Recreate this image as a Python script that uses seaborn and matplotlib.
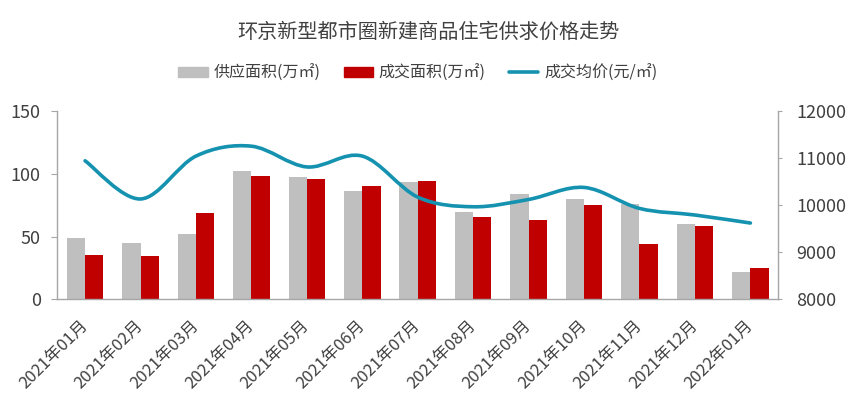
import pandas as pd
import matplotlib
matplotlib.use('Agg')
import matplotlib.pyplot as plt
import matplotlib.transforms as mtransforms
import seaborn as sns
import numpy as np
from matplotlib.path import Path
from matplotlib.patches import PathPatch
from matplotlib.lines import Line2D

# --- 数据 ---
months = ['2021年01月', '2021年02月', '2021年03月', '2021年04月', '2021年05月',
          '2021年06月', '2021年07月', '2021年08月', '2021年09月', '2021年10月',
          '2021年11月', '2021年12月', '2022年01月']
supply_area = [49, 45, 51.7, 102, 97.5, 86, 93, 69.5, 84, 80, 76, 60, 21.5]
deal_area = [35, 34.5, 68.4, 98, 95.7, 90, 94, 65.5, 63, 75.3, 43.8, 58.6, 25]
deal_price = [10940, 10130, 11040, 11250, 10810, 11040, 10170, 9965, 10120,
              10375, 9930, 9790, 9620]

SUPPLY_LABEL = '供应面积(万㎡)'
DEAL_LABEL = '成交面积(万㎡)'
PRICE_LABEL = '成交均价(元/㎡)'

GRAY = '#BFBFBF'
RED = '#C00000'
BLUE = '#1492B0'
TEXT = '#404040'
AXIS = '#A6A6A6'

sns.set_style('white')
plt.rcParams['font.family'] = ['Noto Sans CJK SC', 'DejaVu Sans']
plt.rcParams['axes.unicode_minus'] = False

df = pd.DataFrame({
    'month': months * 2,
    'value': supply_area + deal_area,
    'series': [SUPPLY_LABEL] * len(months) + [DEAL_LABEL] * len(months),
})

fig = plt.figure(figsize=(8.56, 4.09), dpi=100)
ax = fig.add_axes([0.067, 0.268, 0.842, 0.461])

sns.barplot(data=df, x='month', y='value', hue='series', order=months,
            hue_order=[SUPPLY_LABEL, DEAL_LABEL],
            palette=[GRAY, RED], width=0.66, ax=ax, legend=False,
            saturation=1, linewidth=0)

ax.set_xlim(-0.5, len(months) - 0.5)
ax.set_ylim(0, 150)
ax.set_yticks([0, 50, 100, 150])
ax.set_xlabel('')
ax.set_ylabel('')

# 平滑折线（成交均价），右轴
ax2 = ax.twinx()
ax2.set_ylim(8000, 12000)
ax2.set_yticks([8000, 9000, 10000, 11000, 12000])

xs = np.arange(len(months), dtype=float)
ys = np.array(deal_price, dtype=float)
px = np.concatenate([[xs[0]], xs, [xs[-1]]])
py = np.concatenate([[ys[0]], ys, [ys[-1]]])
verts = [(xs[0], ys[0])]
codes = [Path.MOVETO]
for i in range(1, len(px) - 2):
    c1 = (px[i] + (px[i + 1] - px[i - 1]) / 6, py[i] + (py[i + 1] - py[i - 1]) / 6)
    c2 = (px[i + 1] - (px[i + 2] - px[i]) / 6, py[i + 1] - (py[i + 2] - py[i]) / 6)
    verts += [c1, c2, (px[i + 1], py[i + 1])]
    codes += [Path.CURVE4] * 3
ax2.add_patch(PathPatch(Path(verts, codes), facecolor='none', edgecolor=BLUE,
                        linewidth=2.6, capstyle='round', joinstyle='round'))

# 坐标轴样式
for a in (ax, ax2):
    for s in a.spines.values():
        s.set_visible(False)
    a.grid(False)
ax.spines['left'].set_visible(True)
ax.spines['bottom'].set_visible(True)
ax2.spines['right'].set_visible(True)
for s in (ax.spines['left'], ax.spines['bottom'], ax2.spines['right']):
    s.set_color(AXIS)
    s.set_linewidth(1)

ax.set_xticks(np.arange(len(months) + 1) - 0.5, minor=True)
ax.tick_params(axis='x', which='major', length=0, labelsize=12, labelcolor=TEXT, pad=4)
ax.tick_params(axis='x', which='minor', length=4, color=AXIS, direction='out')
ax.tick_params(axis='y', length=4, color=AXIS, labelsize=13, labelcolor=TEXT, pad=8)
ax2.tick_params(axis='y', length=3, color=AXIS, labelsize=13, labelcolor=TEXT, pad=10)
ax.set_xticks(xs)
ax.set_xticklabels(months, rotation=45, ha='right', rotation_mode='anchor')
shift = mtransforms.ScaledTranslation(-6 / 100, -12 / 100, fig.dpi_scale_trans)
for lab in ax.get_xticklabels():
    lab.set_transform(lab.get_transform() + shift)

fig.text(0.5, 0.922, '环京新型都市圈新建商品住宅供求价格走势', ha='center', va='center',
         fontsize=14.5, color=TEXT)

handles = [plt.Rectangle((0, 0), 1, 1, color=GRAY),
           plt.Rectangle((0, 0), 1, 1, color=RED),
           Line2D([0], [0], color=BLUE, linewidth=2.6)]
fig.legend(handles, [SUPPLY_LABEL, DEAL_LABEL, PRICE_LABEL], loc='center',
           bbox_to_anchor=(0.488, 0.822), ncol=3, frameon=False, fontsize=11.5,
           handlelength=1.85, handleheight=0.6, handletextpad=0.35,
           columnspacing=1.45, labelcolor=TEXT)

fig.savefig('out.png', dpi=100)
